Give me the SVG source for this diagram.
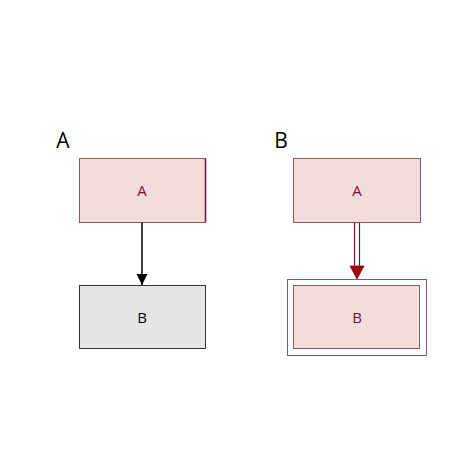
<svg xmlns="http://www.w3.org/2000/svg" width="474" height="474" viewBox="0 0 474 474">
<style>
text{font-family:"Open Sans","Liberation Sans",sans-serif;text-anchor:middle}
.pink{fill:#f2dcdc;stroke:#8c5a5a;stroke-width:1}
.lbl{font-size:15px;fill:#7a1030}
.big{font-size:21px;fill:#000}
</style>
<defs>
<marker id="ah" markerWidth="12" markerHeight="12" refX="11" refY="6" orient="auto" markerUnits="userSpaceOnUse">
<path d="M0,0.5 L11,6 L0,11.5 Z" fill="#000"/>
</marker>
</defs>
<rect width="474" height="474" fill="#fff"/>
<text class="big" x="63" y="148">A</text>
<text class="big" x="281" y="148">B</text>
<g id="leftA">
<rect class="pink" x="79.5" y="158.5" width="126" height="64"/>
<line x1="205.5" y1="158.5" x2="205.5" y2="222.5" stroke="#7a1030" stroke-width="1.5"/>
<text class="lbl" x="142" y="196">A</text>
</g>
<g id="leftB">
<rect x="79.5" y="285.5" width="126" height="63" fill="#e6e6e6" stroke="#333" stroke-width="1"/>
<text x="142" y="323" font-size="15" fill="#000">B</text>
</g>
<g id="rightA">
<rect class="pink" x="293.5" y="158.5" width="127" height="64"/>
<text class="lbl" x="357" y="196">A</text>
</g>
<g id="rightB">
<rect x="287.5" y="279.5" width="139" height="76" fill="#fff" stroke="#8c5a5a" stroke-width="1"/>
<rect class="pink" x="293.5" y="285.5" width="126" height="63"/>
<text class="lbl" x="357" y="323">B</text>
</g>
<g id="connectors">
<line x1="142" y1="222.5" x2="142" y2="285" stroke="#000" stroke-width="1.5" marker-end="url(#ah)"/>
<line x1="354.5" y1="222.5" x2="354.5" y2="267" stroke="#7a1030" stroke-width="1.2"/>
<line x1="359.5" y1="222.5" x2="359.5" y2="267" stroke="#7a1030" stroke-width="1.2"/>
<path d="M350,266 L364,266 L357,279 Z" fill="#a00000" stroke="#7a1030" stroke-width="0.8"/>
</g>
</svg>
